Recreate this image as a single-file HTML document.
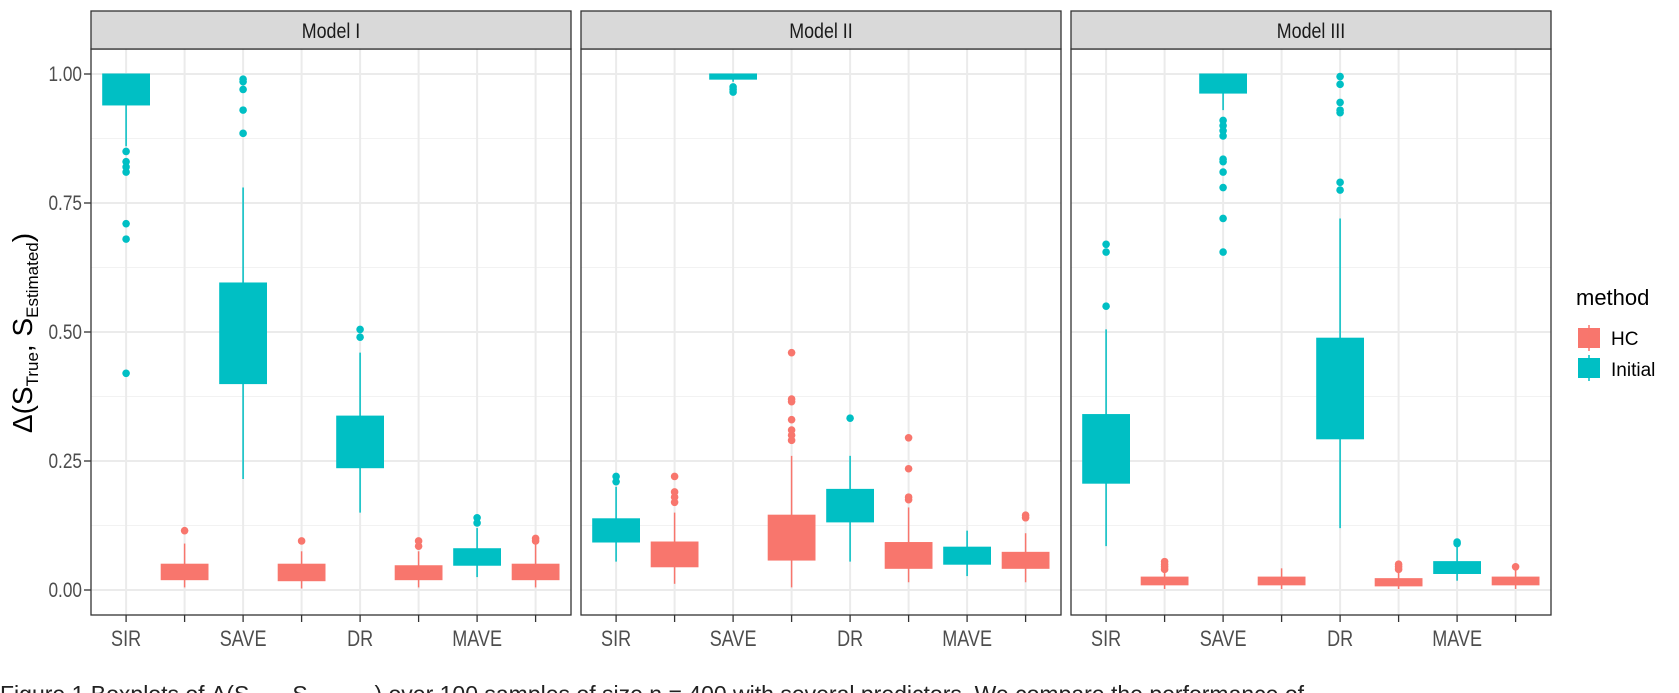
<!DOCTYPE html>
<html><head><meta charset="utf-8"><style>
html,body{margin:0;padding:0;background:#fff;width:1679px;height:693px;overflow:hidden}
svg{display:block}
text{font-family:"Liberation Sans",sans-serif}
</style></head><body>
<svg id="chart" width="1679" height="693">
<g id="panels"></g>
<text transform="translate(32,333) rotate(-90)" text-anchor="middle" font-size="28" fill="#000">Δ(S<tspan font-size="17" dy="6">True</tspan><tspan dy="-6">, S</tspan><tspan font-size="17" dy="6">Estimated</tspan><tspan dy="-6">)</tspan></text>
<g>
<text x="1576" y="305" font-size="22">method</text>
<rect x="1578" y="328" width="22" height="20" fill="#F8766D"/>
<line x1="1589" y1="325" x2="1589" y2="351" stroke="#F8766D" stroke-width="1.5"/>
<text x="1611" y="345" font-size="19">HC</text>
<rect x="1578" y="358" width="22" height="20" fill="#00BFC4"/>
<line x1="1589" y1="355" x2="1589" y2="381" stroke="#00BFC4" stroke-width="1.5"/>
<text x="1611" y="376" font-size="19">Initial</text>
</g>
<text x="0" y="702" font-family="Liberation Serif" font-size="23" fill="#222">Figure 1 Boxplots of Δ(S<tspan font-size="15" dy="4">True</tspan><tspan dy="-4">, S</tspan><tspan font-size="15" dy="4">Estimated</tspan><tspan dy="-4">) over 100 samples of size n = 400 with several predictors. We compare the performance of</tspan></text>
</svg>
<script>
const panelTitles=["Model I","Model II","Model III"];
const methods=["SIR","SAVE","DR","MAVE"];
const groups=["Initial","HC"];
const yTicks=[0,0.25,0.5,0.75,1];
const yTickLabels=["0.00","0.25","0.50","0.75","1.00"];
// each entry: [q1,q3,whiskerLow,whiskerHigh]
const boxesModel1=[[0.94,1.0,0.86,1.0],[0.02,0.05,0.005,0.09],[0.40,0.595,0.215,0.78],[0.018,0.05,0.003,0.075],[0.237,0.337,0.15,0.46],[0.02,0.047,0.005,0.075],[0.048,0.08,0.025,0.12],[0.02,0.05,0.005,0.09]];
const boxesModel2=[[0.093,0.138,0.055,0.2],[0.045,0.093,0.012,0.15],[0.99,1.0,0.985,1.0],[0.058,0.145,0.005,0.26],[0.132,0.195,0.055,0.26],[0.042,0.092,0.015,0.16],[0.05,0.083,0.027,0.115],[0.042,0.073,0.015,0.11]];
const boxesModel3=[[0.207,0.34,0.085,0.505],[0.01,0.025,0.002,0.035],[0.963,1.0,0.93,1.0],[0.01,0.025,0.002,0.042],[0.293,0.488,0.12,0.72],[0.008,0.022,0.002,0.035],[0.032,0.055,0.018,0.085],[0.01,0.025,0.002,0.04]];
const outliersModel1=[[0.85,0.83,0.82,0.81,0.71,0.68,0.42],[0.115],[0.99,0.985,0.97,0.93,0.885],[0.095],[0.49,0.505],[0.085,0.095],[0.13,0.14],[0.095,0.1]];
const outliersModel2=[[0.21,0.22],[0.17,0.18,0.19,0.22],[0.975,0.97,0.965],[0.29,0.30,0.31,0.33,0.365,0.37,0.46],[0.333],[0.175,0.18,0.235,0.295],[],[0.14,0.145]];
const outliersModel3=[[0.55,0.655,0.67],[0.04,0.045,0.05,0.055],[0.91,0.9,0.89,0.88,0.835,0.83,0.81,0.78,0.72,0.655],[],[0.775,0.79,0.925,0.93,0.945,0.98,0.995],[0.04,0.045,0.05],[0.09,0.093],[0.045]];
const allBoxes=[boxesModel1,boxesModel2,boxesModel3];
const allOutliers=[outliersModel1,outliersModel2,outliersModel3];

const NS="http://www.w3.org/2000/svg";
const panelLeft=[91,581,1071], panelW=480, plotTop=49, plotBottom=615, stripTop=11;
const y=v=>590-v*516;
const unit=58.5;
const xPos=(p,i)=>panelLeft[p]+unit*(0.6+i);
const colors={Initial:"#00BFC4",HC:"#F8766D"};
function mk(tag,attrs,parent){const e=document.createElementNS(NS,tag);for(const k in attrs)e.setAttribute(k,attrs[k]);parent.appendChild(e);return e;}
const root=document.getElementById('panels');
for(let p=0;p<3;p++){
  const g=mk('g',{},root);
  
  
  const L=panelLeft[p],R=L+panelW;
  for(let k=0;k<yTicks.length-1;k++){const v=(yTicks[k]+yTicks[k+1])/2;mk('line',{x1:L,x2:R,y1:y(v),y2:y(v),stroke:'#f2f2f2','stroke-width':1},g);}
  for(const v of yTicks){mk('line',{x1:L,x2:R,y1:y(v),y2:y(v),stroke:'#ebebeb','stroke-width':2},g);}
  for(let i=0;i<8;i++){mk('line',{x1:xPos(p,i),x2:xPos(p,i),y1:plotTop,y2:plotBottom,stroke:'#ebebeb','stroke-width':2},g);}
  for(let i=0;i<8;i++){
    const b=allBoxes[p][i];const grp=groups[i%2];const c=colors[grp];const cx=xPos(p,i);const hw=unit*0.4;
    const bg=mk('g',{},g);
    
    
    mk('line',{x1:cx,x2:cx,y1:y(b[2]),y2:y(b[3]),stroke:c,'stroke-width':1.5},bg);
    mk('rect',{x:cx-hw,y:y(b[1]),width:hw*2,height:Math.max(1.5,y(b[0])-y(b[1])),fill:c,stroke:c,'stroke-width':1},bg);
    for(const o of allOutliers[p][i]){const d=mk('circle',{cx:cx,cy:y(o),r:3.8,fill:c},bg);
      
      }
  }
  const br=mk('rect',{x:L,y:plotTop,width:panelW,height:plotBottom-plotTop,fill:'none',stroke:'#333','stroke-width':1.3},g);
  
  
  const st=mk('rect',{x:L,y:stripTop,width:panelW,height:plotTop-stripTop,fill:'#d9d9d9',stroke:'#333','stroke-width':1.3},g);
  
  
  const cxs=L+panelW/2;
  const tt=mk('text',{x:cxs,y:38,'text-anchor':'middle','font-size':21,fill:'#1a1a1a',transform:`translate(${cxs},0) scale(0.85,1) translate(${-cxs},0)`},g);
  tt.textContent=panelTitles[p];
  
  
  for(let i=0;i<8;i++){mk('line',{x1:xPos(p,i),x2:xPos(p,i),y1:plotBottom,y2:plotBottom+7,stroke:'#333','stroke-width':1.3},g);}
  for(let m=0;m<4;m++){const cx=xPos(p,2*m);
    const t=mk('text',{x:cx,y:646,'text-anchor':'middle','font-size':22,fill:'#4d4d4d',transform:`translate(${cx},0) scale(0.82,1) translate(${-cx},0)`},g);
    t.textContent=methods[m];
    
    }
}
for(let k=0;k<yTicks.length;k++){
  mk('line',{x1:84,x2:91,y1:y(yTicks[k]),y2:y(yTicks[k]),stroke:'#333','stroke-width':1.3},root);
  const t=mk('text',{x:82,y:y(yTicks[k])+7,'text-anchor':'end','font-size':21,fill:'#4d4d4d',transform:`translate(82,0) scale(0.82,1) translate(-82,0)`},root);
  t.textContent=yTickLabels[k];
  
  
}
</script>
</body></html>
